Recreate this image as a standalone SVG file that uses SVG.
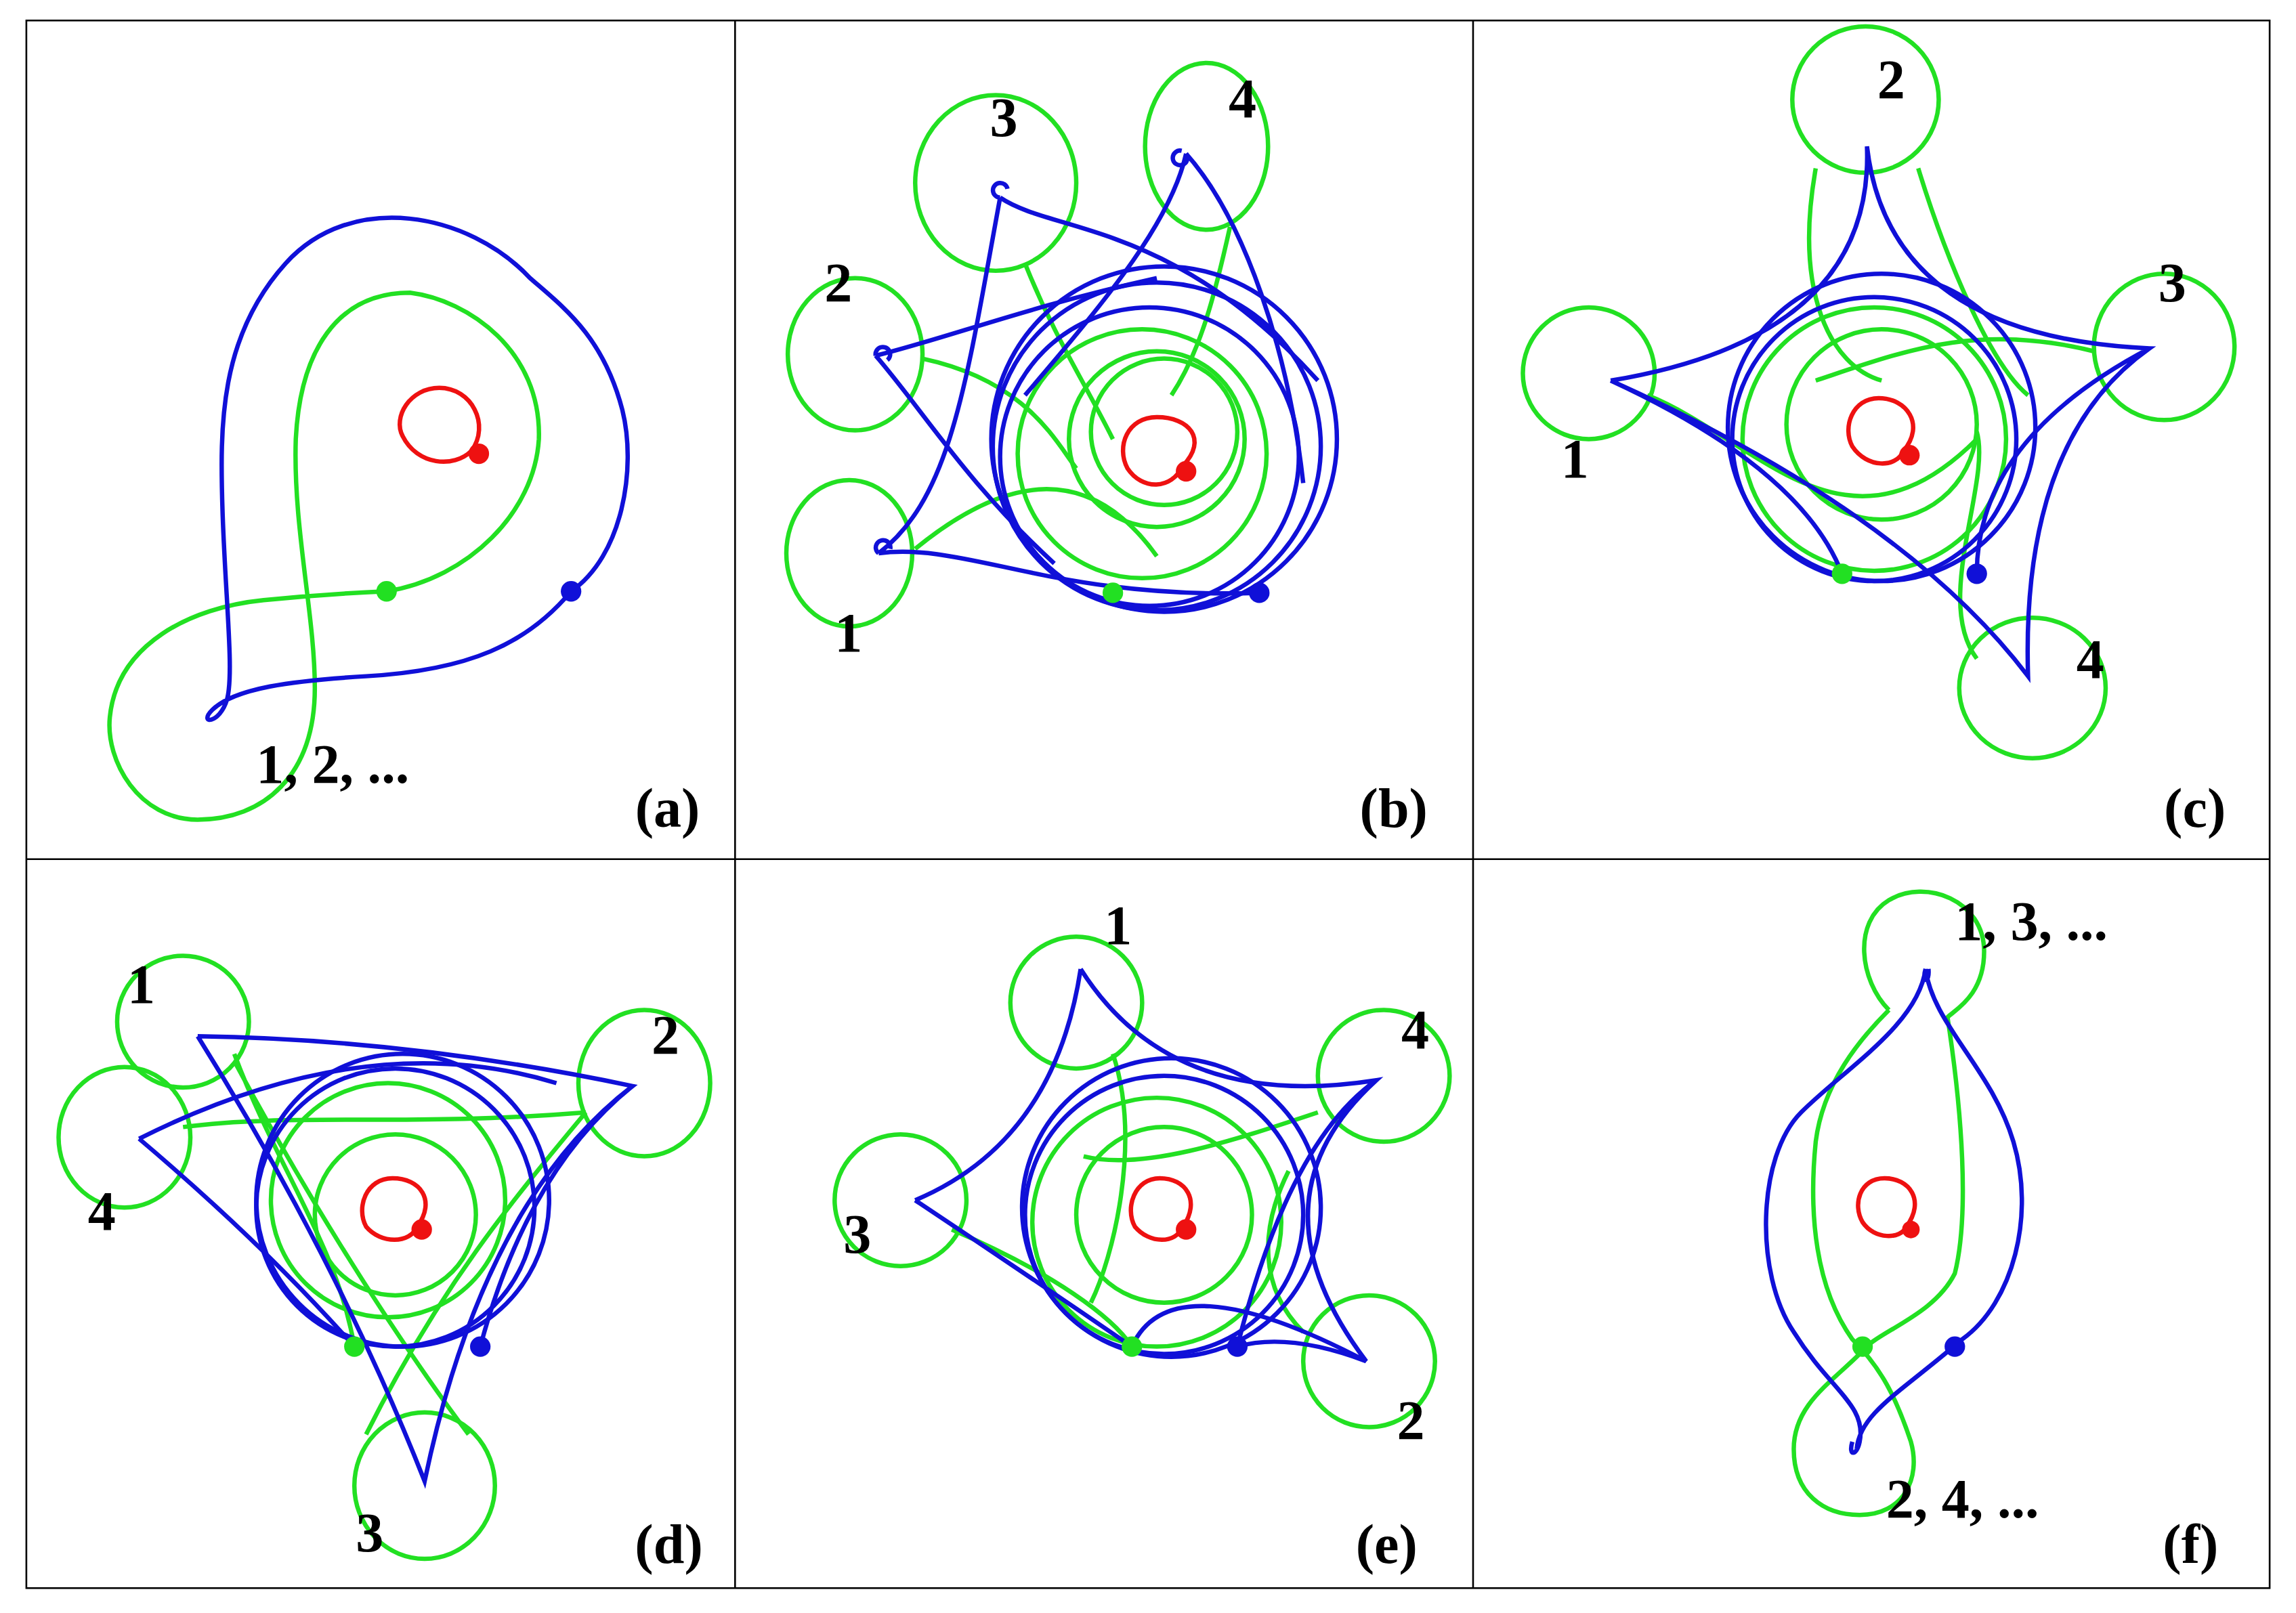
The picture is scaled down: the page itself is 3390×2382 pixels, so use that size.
<svg xmlns="http://www.w3.org/2000/svg" width="3390" height="2382" viewBox="0 0 3390 2382">
<style>
.b{fill:none;stroke:#1010d8;stroke-width:3}
.g{fill:none;stroke:#22e022;stroke-width:3}
.r{fill:none;stroke:#ee1111;stroke-width:3}
.fr{stroke:#000;stroke-width:1.2;fill:none}
text{font-family:"Liberation Serif",serif;font-weight:bold;font-size:38px;fill:#000}
.lab{text-anchor:end}
</style>
<rect width="3390" height="2382" fill="#fff"/>
<g transform="scale(2.162,2.1615)">
<g id="frame">
<rect class="fr" x="18" y="14" width="1532" height="1071"/>
<line class="fr" x1="502" y1="14" x2="502" y2="1085"/>
<line class="fr" x1="1006" y1="14" x2="1006" y2="1085"/>
<line class="fr" x1="18" y1="587" x2="1550" y2="587"/>
</g>
<g id="panel-a">
<path class="g" d="M264,404 C320,395 365,350 368,300 C370,240 320,205 280,200 C230,200 205,240 202,300 C200,360 215,420 215,470 C215,530 180,560 135,560 C95,560 72,520 75,490 C80,440 130,415 180,410 C220,406 240,405 264,404"/>
<path class="b" d="M390,404 C425,380 435,320 425,280 C412,230 385,210 362,190 C320,145 240,130 195,180 C150,230 150,290 152,350 C154,410 160,460 155,478 C150,495 135,495 145,485 C160,470 200,465 250,462 C320,458 360,440 390,404"/>
<path class="r" d="M322,308 C335,290 322,265 300,265 C280,265 268,285 275,298 C285,318 310,320 322,308"/>
<circle cx="327" cy="310" r="7" fill="#ee1111"/>
<circle cx="264" cy="404" r="7" fill="#22e022"/>
<circle cx="390" cy="404" r="7" fill="#1010d8"/>
<text x="175" y="535">1, 2, ...</text>
<text class="lab" x="478" y="565">(a)</text>
</g>
<g id="panel-b">
<ellipse class="g" cx="580" cy="378" rx="43" ry="50"/>
<ellipse class="g" cx="584" cy="242" rx="46" ry="52"/>
<ellipse class="g" cx="680" cy="125" rx="55" ry="60"/>
<ellipse class="g" cx="824" cy="100" rx="42" ry="57"/>
<circle class="g" cx="790" cy="300" r="60"/>
<circle class="g" cx="780" cy="310" r="85"/>
<circle class="g" cx="795" cy="295" r="50"/>
<path class="g" d="M625,375 C680,330 740,310 790,380 M630,245 C700,260 720,300 735,320 M700,180 C720,230 740,260 760,300 M840,155 C830,200 820,240 800,270"/>
<circle class="b" cx="790" cy="305" r="112"/>
<circle class="b" cx="785" cy="312" r="102"/>
<circle class="b" cx="795" cy="300" r="118"/>
<path class="b" d="M600,378 C660,370 720,410 860,405 M600,378 C650,340 660,260 683,135 M598,243 C650,230 700,210 790,190 M598,243 C630,280 660,330 720,385 M683,135 C720,160 800,150 900,260 M810,105 C800,150 760,200 700,270 M810,105 C850,150 880,240 890,330"/>
<path class="b" d="M600,378 a5,5 0 1 1 8,-3 M598,243 a5,5 0 1 1 8,3 M683,135 a5,5 0 1 1 5,-6 M810,105 a5,5 0 1 1 -3,-2"/>
<path class="r" d="M808,318 C825,300 812,285 790,285 C770,285 762,305 770,320 C780,335 800,335 808,318"/>
<circle cx="810" cy="322" r="7" fill="#ee1111"/>
<circle cx="760" cy="405" r="7" fill="#22e022"/>
<circle cx="860" cy="405" r="7" fill="#1010d8"/>
<text x="570" y="445">1</text><text x="563" y="206">2</text><text x="676" y="93">3</text><text x="839" y="80">4</text>
<text class="lab" x="975" y="565">(b)</text>
</g>
<g id="panel-c">
<ellipse class="g" cx="1085" cy="255" rx="45" ry="45"/>
<ellipse class="g" cx="1274" cy="68" rx="50" ry="50"/>
<ellipse class="g" cx="1478" cy="237" rx="48" ry="50"/>
<ellipse class="g" cx="1388" cy="470" rx="50" ry="48"/>
<circle class="g" cx="1285" cy="290" r="65"/>
<circle class="g" cx="1280" cy="300" r="90"/>
<path class="g" d="M1125,270 C1200,300 1260,390 1350,300 M1240,115 C1225,200 1250,250 1285,260 M1310,115 C1330,180 1360,250 1385,270 M1430,240 C1350,220 1300,240 1240,260 M1350,450 C1320,410 1360,330 1350,295"/>
<circle class="b" cx="1285" cy="292" r="105"/>
<circle class="b" cx="1280" cy="300" r="97"/>
<path class="b" d="M1100,260 Q1280,230 1275,100 Q1290,230 1468,238 Q1380,300 1385,462 Q1300,350 1100,260 M1100,260 Q1230,320 1258,392 M1468,238 Q1350,300 1350,392"/>
<path class="r" d="M1300,308 C1315,290 1302,272 1283,272 C1265,272 1258,292 1265,305 C1275,320 1295,320 1300,308"/>
<circle cx="1304" cy="311" r="7" fill="#ee1111"/>
<circle cx="1258" cy="392" r="7" fill="#22e022"/>
<circle cx="1350" cy="392" r="7" fill="#1010d8"/>
<text x="1066" y="326">1</text><text x="1282" y="67">2</text><text x="1474" y="206">3</text><text x="1418" y="463">4</text>
<text class="lab" x="1520" y="565">(c)</text>
</g>
<g id="panel-d">
<ellipse class="g" cx="125" cy="698" rx="45" ry="45"/>
<ellipse class="g" cx="85" cy="777" rx="45" ry="48"/>
<ellipse class="g" cx="440" cy="740" rx="45" ry="50"/>
<ellipse class="g" cx="290" cy="1015" rx="48" ry="50"/>
<circle class="g" cx="270" cy="830" r="55"/>
<circle class="g" cx="265" cy="820" r="80"/>
<path class="g" d="M160,725 C200,800 260,900 320,980 M125,770 C200,760 280,770 400,760 M400,760 C350,820 300,880 250,980 M160,720 C190,800 230,850 242,920"/>
<circle class="b" cx="270" cy="825" r="95"/>
<circle class="b" cx="275" cy="820" r="100"/>
<path class="b" d="M135,708 Q280,710 432,742 Q330,820 290,1012 Q230,860 135,708 M95,778 Q250,700 380,740 M95,778 Q180,850 242,920 M432,742 Q360,800 328,920"/>
<path class="r" d="M285,838 C298,820 287,805 268,805 C250,805 243,825 250,838 C260,850 280,850 285,838"/>
<circle cx="288" cy="840" r="7" fill="#ee1111"/>
<circle cx="242" cy="920" r="7" fill="#22e022"/>
<circle cx="328" cy="920" r="7" fill="#1010d8"/>
<text x="87" y="685">1</text><text x="445" y="720">2</text><text x="243" y="1060">3</text><text x="60" y="840">4</text>
<text class="lab" x="480" y="1068">(d)</text>
</g>
<g id="panel-e">
<ellipse class="g" cx="735" cy="685" rx="45" ry="45"/>
<ellipse class="g" cx="945" cy="735" rx="45" ry="45"/>
<ellipse class="g" cx="615" cy="820" rx="45" ry="45"/>
<ellipse class="g" cx="935" cy="930" rx="45" ry="45"/>
<circle class="g" cx="795" cy="830" r="60"/>
<circle class="g" cx="790" cy="835" r="85"/>
<path class="g" d="M760,720 C780,780 760,860 745,890 M900,760 C840,780 780,800 740,790 M650,840 C720,870 760,900 773,920 M890,910 C860,880 860,840 880,800"/>
<circle class="b" cx="795" cy="830" r="95"/>
<circle class="b" cx="800" cy="825" r="102"/>
<path class="b" d="M738,662 Q800,760 940,738 Q850,820 933,930 Q800,860 773,920 M625,820 Q720,780 738,662 M625,820 Q700,870 773,920 M940,738 Q880,780 845,920 M933,930 Q880,910 845,920"/>
<path class="r" d="M808,838 C820,820 810,805 792,805 C775,805 768,825 775,838 C785,850 803,850 808,838"/>
<circle cx="810" cy="840" r="7" fill="#ee1111"/>
<circle cx="773" cy="920" r="7" fill="#22e022"/>
<circle cx="845" cy="920" r="7" fill="#1010d8"/>
<text x="754" y="645">1</text><text x="954" y="983">2</text><text x="576" y="856">3</text><text x="957" y="716">4</text>
<text class="lab" x="968" y="1068">(e)</text>
</g>
<g id="panel-f">
<path class="g" d="M1290,690 C1270,670 1265,630 1290,615 C1315,600 1355,615 1355,650 C1355,680 1335,690 1330,695 C1340,760 1345,830 1335,870 C1320,900 1280,910 1270,925 C1250,945 1225,960 1225,990 C1225,1020 1245,1035 1270,1035 C1300,1035 1312,1010 1305,985 C1295,955 1285,935 1265,915 C1240,880 1235,830 1240,780 C1245,740 1270,710 1290,690"/>
<path class="b" d="M1315,662 C1310,700 1260,730 1230,760 C1200,790 1198,870 1225,910 C1250,950 1275,960 1270,985 C1268,995 1262,995 1265,985 M1315,662 C1312,672 1318,672 1317,662 M1315,662 C1320,700 1360,730 1375,780 C1390,830 1375,890 1340,915 C1300,950 1270,965 1268,990"/>
<path class="r" d="M1302,838 C1315,820 1304,805 1287,805 C1270,805 1265,823 1272,835 C1280,847 1298,847 1302,838"/>
<circle cx="1305" cy="840" r="6" fill="#ee1111"/>
<circle cx="1272" cy="920" r="7" fill="#22e022"/>
<circle cx="1335" cy="920" r="7" fill="#1010d8"/>
<text x="1335" y="642">1, 3, ...</text>
<text x="1288" y="1037">2, 4, ...</text>
<text class="lab" x="1515" y="1068">(f)</text>
</g>
</g>
</svg>
